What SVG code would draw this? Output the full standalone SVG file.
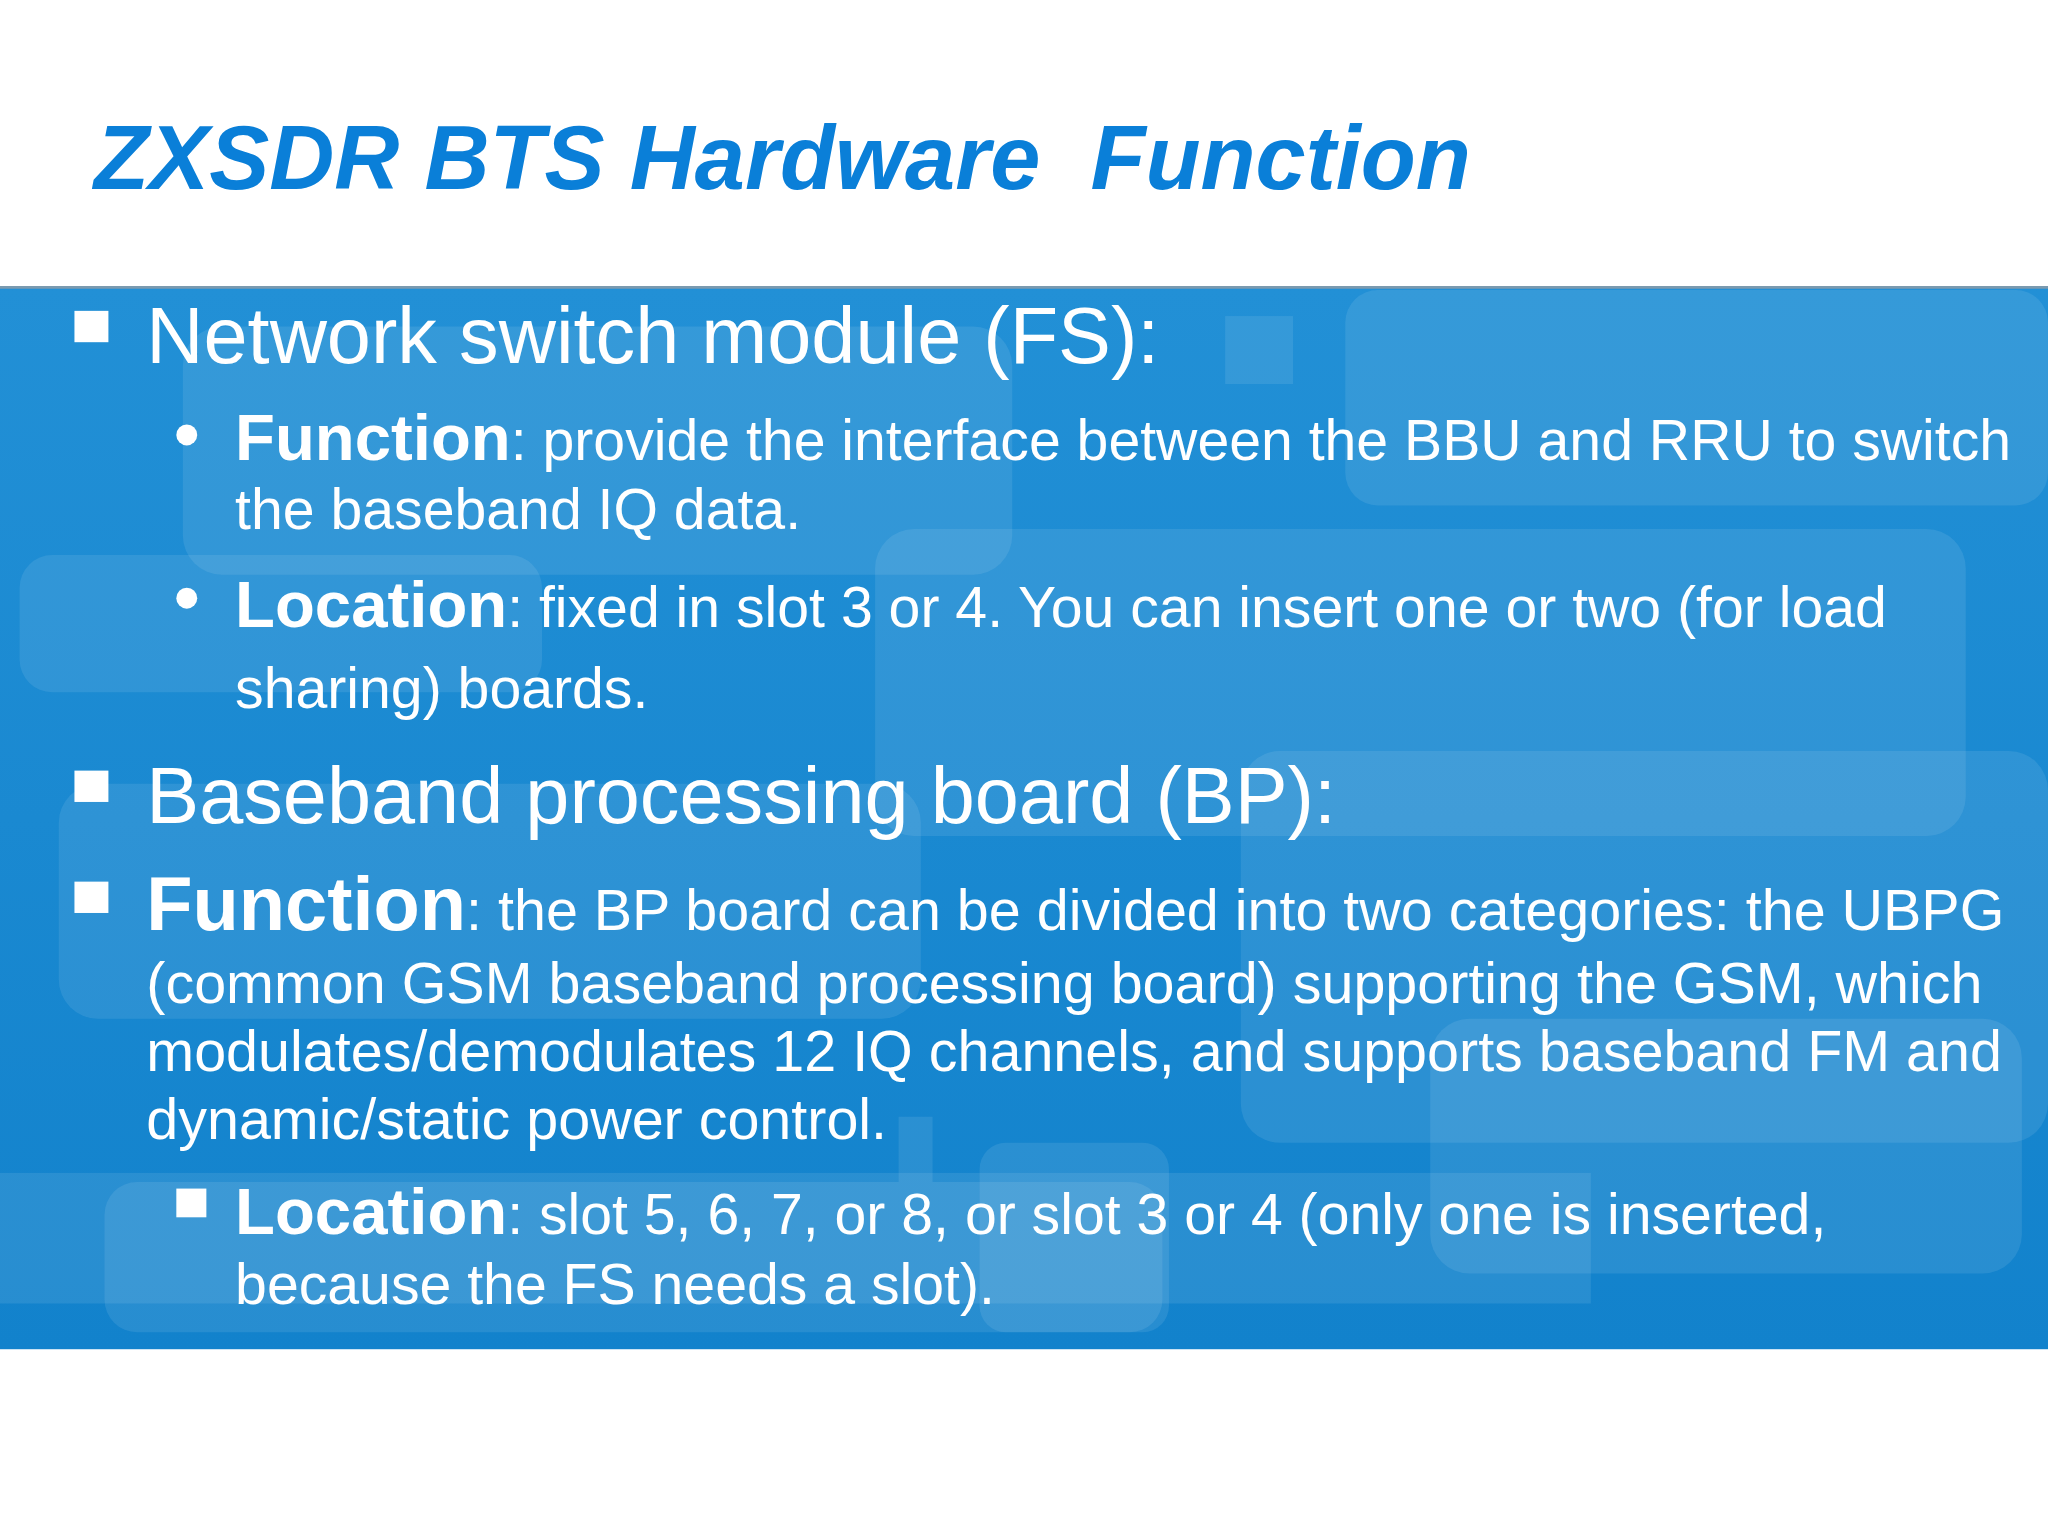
<svg xmlns="http://www.w3.org/2000/svg" width="2048" height="1536" viewBox="0 0 2048 1536">
<style>
.t{font-family:"Liberation Sans",Arial,sans-serif;fill:#fff}
.b{font-weight:bold}
.d{fill:#fff;opacity:0.09}
</style>
<defs><linearGradient id="g" x1="0" y1="0" x2="0" y2="1"><stop offset="0" stop-color="#2290d6"/><stop offset="1" stop-color="#1282cc"/></linearGradient></defs>
<rect width="2048" height="1536" fill="#fff"/>
<g transform="scale(1.30612)">
<text x="72" y="145" xml:space="preserve" font-family="Liberation Sans,Arial,sans-serif" font-weight="bold" font-style="italic" font-size="69" fill="#0a7fd8">ZXSDR BTS Hardware  Function</text>
<rect x="0" y="220" width="1568" height="813" fill="url(#g)"/>
<line x1="0" y1="220" x2="1568" y2="220" stroke="#7a9ab0" stroke-width="2"/>
<g>
<rect class="d" x="1030" y="222" width="538" height="165" rx="25"/>
<rect class="d" x="140" y="250" width="635" height="190" rx="30"/>
<rect class="d" x="15" y="425" width="400" height="105" rx="25"/>
<rect class="d" x="670" y="405" width="835" height="235" rx="30"/>
<rect class="d" x="45" y="600" width="660" height="180" rx="30"/>
<rect class="d" x="950" y="575" width="618" height="300" rx="30"/>
<rect class="d" x="1095" y="780" width="453" height="195" rx="30"/>
<rect class="d" x="80" y="905" width="810" height="115" rx="25"/>
<rect class="d" x="750" y="875" width="145" height="145" rx="20"/>
<rect class="d" x="0" y="898" width="1218" height="100"/>
<rect class="d" x="938" y="242" width="52" height="52"/>
<rect class="d" x="688" y="855" width="26" height="50"/>
</g>
<rect x="57" y="238" width="26" height="24" fill="#fff"/>
<text class="t" x="112" y="278" font-size="60.7">Network switch module (FS):</text>
<circle cx="143" cy="333" r="8" fill="#fff"/>
<text class="t" x="180" y="352" font-size="43.8" xml:space="preserve"><tspan class="b" font-size="50">Function</tspan>: provide the interface between the BBU and RRU to switch</text>
<text class="t" x="180" y="405" font-size="43.8">the baseband IQ data.</text>
<circle cx="143" cy="458" r="8" fill="#fff"/>
<text class="t" x="180" y="480" font-size="43.8" xml:space="preserve"><tspan class="b" font-size="50">Location</tspan>: fixed in slot 3 or 4. You can insert one or two (for load</text>
<text class="t" x="180" y="542" font-size="43.8">sharing) boards.</text>
<rect x="57" y="590" width="26" height="24" fill="#fff"/>
<text class="t" x="112" y="630" font-size="60.7">Baseband processing board (BP):</text>
<rect x="57" y="675" width="26" height="24" fill="#fff"/>
<text class="t" x="112" y="712" font-size="44" xml:space="preserve"><tspan class="b" font-size="58">Function</tspan>: the BP board can be divided into two categories: the UBPG</text>
<text class="t" x="112" y="768" font-size="44">(common GSM baseband processing board) supporting the GSM, which</text>
<text class="t" x="112" y="820" font-size="44">modulates/demodulates 12 IQ channels, and supports baseband FM and</text>
<text class="t" x="112" y="872" font-size="44">dynamic/static power control.</text>
<rect x="135" y="910" width="23" height="22" fill="#fff"/>
<text class="t" x="180" y="945" font-size="43.8" xml:space="preserve"><tspan class="b" font-size="50">Location</tspan>: slot 5, 6, 7, or 8, or slot 3 or 4 (only one is inserted,</text>
<text class="t" x="180" y="998" font-size="43.8">because the FS needs a slot).</text>
</g>
</svg>
